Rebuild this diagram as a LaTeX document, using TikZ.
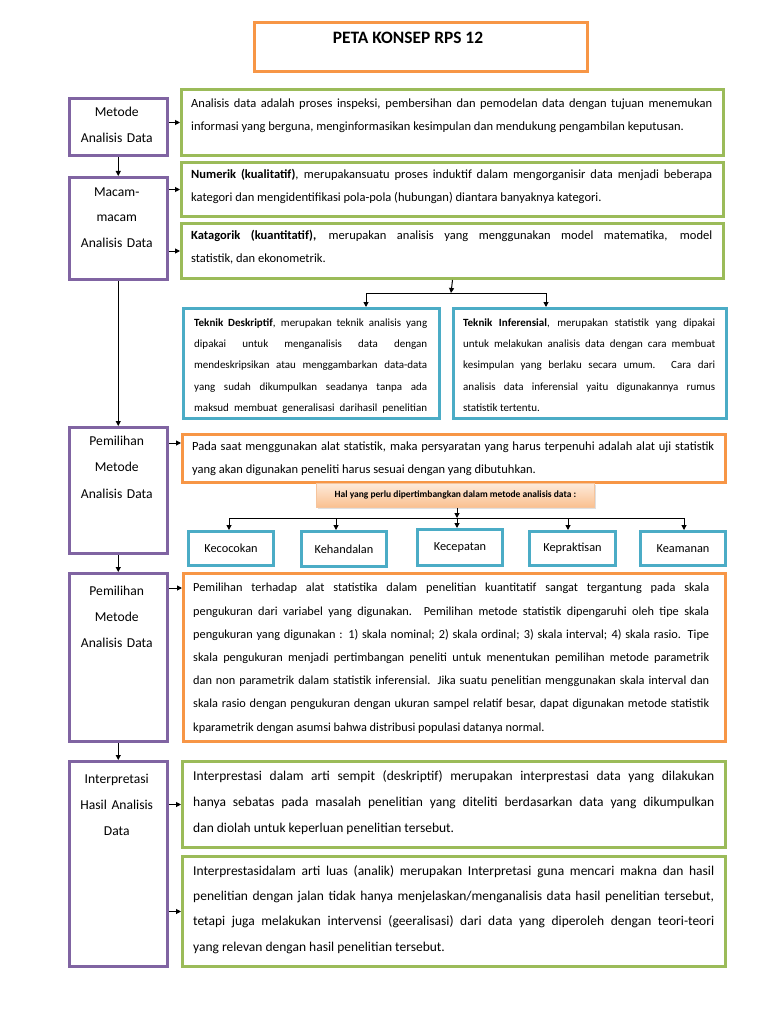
\documentclass[tikz,border=0pt]{standalone}
\usepackage{fontspec}
\setmainfont{Carlito}
\usetikzlibrary{arrows.meta,shadows}
\definecolor{cpurple}{HTML}{8064A2}
\definecolor{cgreen}{HTML}{9BBB59}
\definecolor{corange}{HTML}{F79646}
\definecolor{cblue}{HTML}{4BACC6}
\definecolor{peachtop}{HTML}{FDEADA}
\definecolor{peachbot}{HTML}{FAC08F}
\definecolor{peachline}{HTML}{F6C49C}
\newlength\jw
\newcommand\JL[1]{\par\noindent\hbox to\jw{\strut#1}\par}
\newcommand\LL[1]{\par\noindent\hbox to\jw{\strut#1\hfil}\par}
\newcommand\TB[2]{\parbox[t]{#1}{\setlength\jw{#1}#2}}
\begin{document}
\begin{tikzpicture}[x=1pt,y=-1pt,
  frame/.style={draw, line width=3pt, inner sep=0pt, anchor=north west},
  pbox/.style={frame, draw=cpurple},
  gbox/.style={frame, draw=cgreen},
  obox/.style={frame, draw=corange},
  bbox/.style={frame, draw=cblue},
  kbox/.style={frame, draw=cblue, font=\fontsize{12.3}{14}\selectfont},
  ptxt/.style={anchor=north, inner sep=0pt, text width=96pt, align=center},
  btxt/.style={anchor=north west, inner sep=0pt},
  arr/.style={-{Triangle[length=5pt,width=5pt]}, line width=1pt},
  plain/.style={line width=1pt}]
\fill[white] (0,0) rectangle (768,1024);

% title
\node[obox, minimum width=333pt, minimum height=49pt] (title) at (253,21) {};
\node[inner sep=0pt, font=\fontsize{17.4}{20}\selectfont\bfseries] (titletxt) at (408,38.3) {PETA KONSEP RPS 12};

% purple column
\node[pbox, minimum width=98.5pt, minimum height=57pt] (p1) at (67.5,97) {};
\node[pbox, minimum width=98.5pt, minimum height=102pt] (p2) at (67.5,176) {};
\node[pbox, minimum width=98.5pt, minimum height=126pt] (p3) at (67.5,426) {};
\node[pbox, minimum width=98.5pt, minimum height=168pt] (p4) at (67.5,572) {};
\node[pbox, minimum width=98.5pt, minimum height=205pt] (p5) at (67.5,760) {};

\node[ptxt, font=\fontsize{13.6}{26}\selectfont] (tp1) at (116.75,97.9) {\strut Metode\\\strut Analisis Data};
\node[ptxt, font=\fontsize{13.6}{25.5}\selectfont] (tp2) at (116.75,178.2) {\strut Macam-\\\strut macam\\\strut Analisis Data};
\node[ptxt, font=\fontsize{13.6}{26.5}\selectfont] (tp3) at (116.75,426.5) {\strut Pemilihan\\\strut Metode\\\strut Analisis Data};
\node[ptxt, font=\fontsize{13.6}{26}\selectfont] (tp4) at (116.75,577) {\strut Pemilihan\\\strut Metode\\\strut Analisis Data};
\node[ptxt, font=\fontsize{13.6}{26}\selectfont] (tp5) at (116.75,765.4) {\strut Interpretasi\\\strut Hasil Analisis\\\strut Data};

% right column boxes
\node[gbox, minimum width=542pt, minimum height=66pt] (g1) at (180,88) {};
\node[gbox, minimum width=542pt, minimum height=54pt] (g2) at (180,161) {};
\node[gbox, minimum width=542pt, minimum height=55pt] (g3) at (180,222) {};
\node[bbox, minimum width=256pt, minimum height=110pt] (b1) at (182,307) {};
\node[bbox, minimum width=273pt, minimum height=110pt] (b2) at (452,307) {};
\node[obox, minimum width=543pt, minimum height=48pt] (o2) at (181,433) {};
\node[anchor=north west, minimum width=278pt, minimum height=24pt, inner sep=0pt,
      draw=peachline, line width=0.8pt, top color=peachtop, bottom color=peachbot,
      drop shadow={opacity=0.25, shadow xshift=1.5pt, shadow yshift=-1.5pt},
      font=\fontsize{9.5}{11}\selectfont\bfseries] (sb) at (316,483)
      {Hal yang perlu dipertimbangkan dalam metode analisis data :};
\node[kbox, minimum width=85pt, minimum height=34pt] (k1) at (187,530) {Kecocokan};
\node[kbox, minimum width=85pt, minimum height=35pt] (k2) at (300,530) {Kehandalan};
\node[kbox, minimum width=85pt, minimum height=36pt] (k3) at (416,528) {Kecepatan};
\node[kbox, minimum width=86pt, minimum height=34pt] (k4) at (528,530) {Kepraktisan};
\node[kbox, minimum width=85pt, minimum height=34pt] (k5) at (639,530) {Keamanan};
\node[obox, minimum width=542pt, minimum height=168pt] (o3) at (182,572) {};
\node[gbox, minimum width=543pt, minimum height=86pt] (g4) at (181,760) {};
\node[gbox, minimum width=543pt, minimum height=110pt] (g5) at (181,855) {};

% texts
\node[btxt, font=\fontsize{12.5}{23.2}\selectfont] (tg1) at (191,91) {\TB{521pt}{%
\JL{Analisis data adalah proses inspeksi, pembersihan dan pemodelan data dengan tujuan menemukan}
\LL{informasi yang berguna, menginformasikan kesimpulan dan mendukung pengambilan keputusan.}}};
\node[btxt, font=\fontsize{12.5}{23.5}\selectfont] (tg2) at (191,161.8) {\TB{521pt}{%
\JL{\textbf{Numerik (kualitatif)}, merupakansuatu proses induktif dalam mengorganisir data menjadi beberapa}
\LL{kategori dan mengidentifikasi pola-pola (hubungan) diantara banyaknya kategori.}}};
\node[btxt, font=\fontsize{12.5}{23.3}\selectfont] (tg3) at (191,223.1) {\TB{521pt}{%
\JL{\textbf{Katagorik (kuantitatif),} merupakan analisis yang menggunakan model matematika, model}
\LL{statistik, dan ekonometrik.}}};
\node[btxt, font=\fontsize{11}{21.2}\selectfont] (tb1) at (194,311.5) {\TB{233pt}{%
\JL{\textbf{Teknik Deskriptif}, merupakan teknik analisis yang}
\JL{dipakai untuk menganalisis data dengan}
\JL{mendeskripsikan atau menggambarkan data-data}
\JL{yang sudah dikumpulkan seadanya tanpa ada}
\JL{maksud membuat generalisasi darihasil penelitian}}};
\node[btxt, font=\fontsize{11}{21.2}\selectfont] (tb2) at (463,311.5) {\TB{252pt}{%
\JL{\textbf{Teknik Inferensial}, merupakan statistik yang dipakai}
\JL{untuk melakukan analisis data dengan cara membuat}
\JL{kesimpulan yang berlaku secara umum. Cara dari}
\JL{analisis data inferensial yaitu digunakannya rumus}
\LL{statistik tertentu.}}};
\node[btxt, font=\fontsize{12.5}{23}\selectfont] (to2) at (192,433.7) {\TB{522pt}{%
\JL{Pada saat menggunakan alat statistik, maka persyaratan yang harus terpenuhi adalah alat uji statistik}
\LL{yang akan digunakan peneliti harus sesuai dengan yang dibutuhkan.}}};
\node[btxt, font=\fontsize{12.3}{23.2}\selectfont] (to3) at (193,575.5) {\TB{516pt}{%
\JL{Pemilihan terhadap alat statistika dalam penelitian kuantitatif sangat tergantung pada skala}
\JL{pengukuran dari variabel yang digunakan. Pemilihan metode statistik dipengaruhi oleh tipe skala}
\JL{pengukuran yang digunakan : 1) skala nominal; 2) skala ordinal; 3) skala interval; 4) skala rasio. Tipe}
\JL{skala pengukuran menjadi pertimbangan peneliti untuk menentukan pemilihan metode parametrik}
\JL{dan non parametrik dalam statistik inferensial. Jika suatu penelitian menggunakan skala interval dan}
\JL{skala rasio dengan pengukuran dengan ukuran sampel relatif besar, dapat digunakan metode statistik}
\LL{kparametrik dengan asumsi bahwa distribusi populasi datanya normal.}}};
\node[btxt, font=\fontsize{13.5}{26}\selectfont] (tg4) at (193,762.3) {\TB{521pt}{%
\JL{Interprestasi dalam arti sempit (deskriptif) merupakan interprestasi data yang dilakukan}
\JL{hanya sebatas pada masalah penelitian yang diteliti berdasarkan data yang dikumpulkan}
\LL{dan diolah untuk keperluan penelitian tersebut.}}};
\node[btxt, font=\fontsize{13.5}{25.3}\selectfont] (tg5) at (193,857.3) {\TB{521pt}{%
\JL{Interprestasidalam arti luas (analik) merupakan Interpretasi guna mencari makna dan hasil}
\JL{penelitian dengan jalan tidak hanya menjelaskan/menganalisis data hasil penelitian tersebut,}
\JL{tetapi juga melakukan intervensi (geeralisasi) dari data yang diperoleh dengan teori-teori}
\LL{yang relevan dengan hasil penelitian tersebut.}}};

% connectors: purple column
\draw[arr] (p1.south) -- (p2.north);
\draw[arr] (p2.south) -- (p3.north);
\draw[arr] (p3.south) -- (p4.north);
\draw[arr] (p4.south) -- (p5.north);
\coordinate (a3) at (0,443);
\coordinate (a4) at (0,588);
\draw[arr] (p1.east |- g1.west) -- (g1.west);
\draw[arr] (p2.east |- g2.west) -- (g2.west);
\draw[arr] (p2.east |- g3.west) -- (g3.west);
\draw[arr] (p3.east |- a3) -- (o2.west |- a3);
\draw[arr] (p4.east |- a4) -- (o3.west |- a4);
\draw[arr] (p5.east |- g4.west) -- (g4.west);
\draw[arr] (p5.east |- g5.west) -- (g5.west);

% tree 1
\coordinate (h1) at (451,293);
\coordinate (hl) at (366,293);
\coordinate (hr) at (546,293);
\draw[arr] (g3.south) -- (h1);
\draw[plain] (hl) -- (hr);
\draw[arr] (hl) -- (hl |- b1.north);
\draw[arr] (hr) -- (hr |- b2.north);

% tree 2
\coordinate (c1) at (229,518);
\coordinate (c2) at (336,518);
\coordinate (c3) at (457,518);
\coordinate (c4) at (568,518);
\coordinate (c5) at (684,518);
\draw[arr] (sb.south -| c3) -- (c3);
\draw[plain] (c1) -- (c5);
\draw[arr] (c1) -- (c1 |- k1.north);
\draw[arr] (c2) -- (c2 |- k2.north);
\draw[arr] (c3) -- (c3 |- k3.north);
\draw[arr] (c4) -- (c4 |- k4.north);
\draw[arr] (c5) -- (c5 |- k5.north);
\end{tikzpicture}
\end{document}
